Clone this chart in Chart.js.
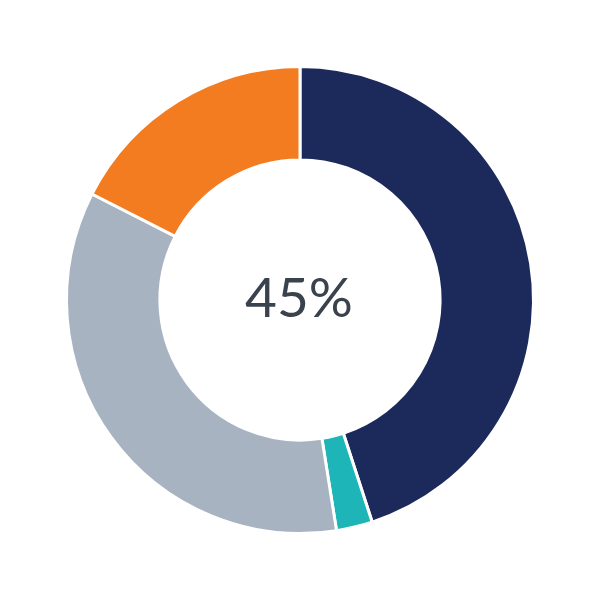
<!DOCTYPE html>
<html>
<head>
<meta charset="utf-8">
<script src="https://cdn.jsdelivr.net/npm/chart.js@4"></script>
<style>
  html, body { margin: 0; padding: 0; background: #fff; }
  #wrap { width: 600px; height: 600px; }
</style>
</head>
<body>
<div id="wrap"><canvas id="donut"></canvas></div>
<script>
// data
const labels = ['Navy', 'Teal', 'Gray', 'Orange'];
const values = [45, 2.5, 35, 17.5];
const colors = ['#1b2a5a', '#1db5b8', '#a8b3c2', '#f47c20'];
const centerLabel = '45%';

// text in the hole
const centerText = {
  id: 'centerText',
  afterDraw(chart) {
    const { ctx, chartArea } = chart;
    const cx = (chartArea.left + chartArea.right) / 2;
    const cy = (chartArea.top + chartArea.bottom) / 2;
    ctx.save();
    ctx.font = '55px Lato, "Open Sans", sans-serif';
    ctx.fillStyle = '#3a424d';
    ctx.textAlign = 'center';
    ctx.textBaseline = 'middle';
    ctx.fillText(centerLabel, cx - 1, cy - 1);
    ctx.restore();
  }
};

new Chart(document.getElementById('donut'), {
  type: 'doughnut',
  data: {
    labels: labels,
    datasets: [{
      data: values,
      backgroundColor: colors,
      borderColor: '#ffffff',
      borderWidth: 3
    }]
  },
  options: {
    responsive: true,
    maintainAspectRatio: false,
    animation: false,
    cutout: '60%',
    layout: { padding: 65 },
    plugins: {
      legend: { display: false },
      tooltip: { enabled: false }
    }
  },
  plugins: [centerText]
});
</script>
</body>
</html>
